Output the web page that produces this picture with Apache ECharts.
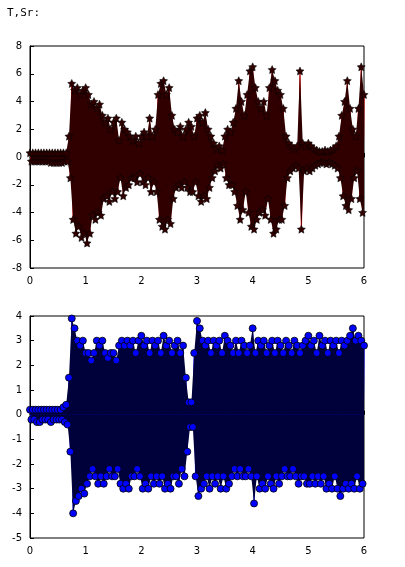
<!DOCTYPE html>
<html><head><meta charset="utf-8">
<script src="https://cdn.jsdelivr.net/npm/echarts@6/dist/echarts.min.js"></script>
<style>html,body{margin:0;padding:0;background:#fff}#c{width:405px;height:567px}</style>
</head><body><div id="c"></div>
<script>
// time step 0.05 s from 0 to 6 (121 samples); peaks
const step = 0.05;
const topUpper = [0.3,0.3,0.3,0.3,0.3,0.3,0.3,0.3,0.3,0.3,0.3,0.3,0.3,0.3,1.5,5.3,4.8,5.0,4.5,4.8,5.0,4.5,3.8,4.0,3.5,3.8,3.0,2.5,2.8,2.0,2.5,2.8,1.2,2.5,2.0,1.8,1.5,1.2,1.5,1.0,1.5,1.8,1.5,2.8,1.5,2.0,4.5,5.3,5.5,4.5,5.0,3.0,2.0,1.8,2.2,1.5,2.0,2.5,2.2,1.5,2.8,3.0,2.5,3.2,2.0,1.5,1.0,0.6,0.8,0.5,1.5,2.0,1.8,2.5,3.5,5.5,4.0,3.0,4.5,6.2,6.5,5.0,4.0,3.5,4.0,3.0,5.0,6.3,5.5,4.8,4.5,3.5,1.5,1.0,0.8,0.6,0.8,6.2,1.0,0.8,1.0,0.8,0.6,0.5,0.4,0.4,0.5,0.4,0.5,0.6,0.8,1.5,3.0,4.0,5.5,3.5,2.0,1.5,3.5,6.5,4.5];
const topLower = [-0.3,-0.3,-0.3,-0.3,-0.3,-0.3,-0.3,-0.4,-0.4,-0.4,-0.4,-0.4,-0.3,-0.3,-1.5,-4.5,-5.5,-5.0,-5.8,-5.5,-6.2,-5.5,-4.2,-4.5,-4.0,-4.2,-3.0,-2.8,-3.2,-2.5,-3.0,-2.5,-1.5,-2.8,-2.2,-2.0,-1.5,-1.5,-1.8,-1.2,-1.8,-2.0,-1.5,-2.5,-1.8,-2.5,-4.5,-5.0,-5.2,-4.5,-4.8,-3.0,-2.2,-2.0,-2.2,-1.8,-2.2,-2.5,-2.5,-1.8,-2.8,-3.2,-2.8,-3.0,-2.2,-1.5,-1.0,-0.6,-0.8,-0.5,-1.5,-2.0,-2.0,-2.5,-3.5,-4.5,-3.8,-2.5,-4.0,-5.0,-5.2,-4.5,-4.0,-3.8,-4.2,-3.0,-4.5,-5.5,-5.2,-4.5,-4.5,-3.5,-1.5,-1.0,-0.8,-0.6,-0.8,-5.2,-1.0,-0.8,-1.0,-0.8,-0.6,-0.5,-0.4,-0.4,-0.5,-0.4,-0.5,-0.6,-0.8,-1.5,-2.8,-3.5,-3.8,-3.0,-1.5,-1.0,-3.0,-4.0,-3.5];
const botUpper = [0.2,0.2,0.2,0.2,0.2,0.2,0.2,0.2,0.2,0.2,0.2,0.2,0.3,0.4,1.5,3.9,3.5,3.0,2.8,3.0,2.5,2.5,2.2,2.5,3.0,2.8,3.0,2.5,2.3,2.5,2.5,2.2,2.8,3.0,2.8,3.0,2.8,3.0,2.5,3.0,3.2,2.8,3.0,2.5,3.0,2.8,3.0,2.5,3.2,2.8,3.0,2.5,2.8,3.0,2.5,2.8,1.5,0.5,0.5,2.5,3.8,3.5,3.0,2.8,3.0,2.5,3.0,2.8,3.0,2.5,3.2,3.0,2.8,2.5,3.0,2.5,3.0,2.8,2.5,2.8,3.5,2.5,3.0,2.8,3.0,2.5,2.8,3.0,2.5,3.0,2.8,2.5,3.0,2.8,2.5,3.0,2.8,2.5,2.8,3.0,3.2,2.8,3.0,2.5,3.2,2.8,3.0,2.5,3.0,2.8,3.0,2.5,3.0,2.8,3.0,3.2,3.5,3.0,3.2,3.0,2.8];
const botLower = [-0.2,-0.2,-0.3,-0.3,-0.2,-0.2,-0.2,-0.3,-0.2,-0.2,-0.2,-0.2,-0.3,-0.4,-1.5,-4.0,-3.5,-3.3,-3.0,-3.2,-2.8,-2.5,-2.2,-2.5,-2.8,-2.5,-2.8,-2.5,-2.2,-2.5,-2.5,-2.2,-2.8,-3.0,-2.8,-3.0,-2.5,-2.5,-2.2,-2.5,-3.0,-2.8,-3.0,-2.5,-2.8,-2.5,-2.8,-2.5,-3.0,-2.8,-3.0,-2.5,-2.5,-2.8,-2.2,-2.5,-1.5,-0.5,-0.5,-2.5,-3.3,-3.0,-2.8,-2.5,-3.0,-2.5,-2.8,-2.5,-3.0,-2.5,-3.0,-2.8,-2.5,-2.2,-2.5,-2.2,-2.5,-2.5,-2.2,-2.5,-3.6,-2.5,-3.0,-2.8,-3.0,-2.5,-2.8,-3.0,-2.5,-2.8,-2.5,-2.2,-2.5,-2.5,-2.2,-2.5,-2.8,-2.5,-2.5,-2.8,-2.8,-2.5,-2.8,-2.5,-2.8,-2.5,-3.0,-2.8,-3.0,-2.5,-3.0,-3.3,-3.0,-2.8,-3.0,-2.8,-3.0,-2.5,-3.0,-2.8,-2.5];

function zig(up, low){
  const d=[];
  for(let i=0;i<up.length;i++){
    const t=+(i*step).toFixed(3);
    d.push([t, up[i]]);
    if(i<up.length-1) d.push([+(t+step/2).toFixed(3), low[i]]);
  }
  return d;
}
function env(v, shift){ return v.map((y,i)=>[+(i*step+shift).toFixed(3), y]); }
const ax = {axisLine:{lineStyle:{color:'#000'}},axisTick:{inside:true,length:4,lineStyle:{color:'#000'}},axisLabel:{color:'#000',fontSize:10,fontFamily:'DejaVu Sans'},splitLine:{show:false}};
const star='path://M0,-10L2.9,-4L9.5,-3.1L4.7,1.5L5.9,8.1L0,5L-5.9,8.1L-4.7,1.5L-9.5,-3.1L-2.9,-4Z';
function band(v, shift, xi, col){
  return {type:'line',xAxisIndex:xi,yAxisIndex:xi,data:env(v,shift),symbol:'none',silent:true,
    lineStyle:{width:0},areaStyle:{color:col,opacity:1,origin:0},z:2};
}
const zt=zig(topUpper,topLower), zb=zig(botUpper,botLower);
const chart=echarts.init(document.getElementById('c'));
chart.setOption({
  animation:false,
  title:{text:'T,Sr:',left:2,top:3,textStyle:{fontSize:11,fontWeight:'normal',color:'#000',fontFamily:'DejaVu Sans Mono'}},
  grid:[{left:30,right:41,top:46,height:222,show:true,borderColor:'#000',borderWidth:1},
        {left:30,right:41,top:316,height:222,show:true,borderColor:'#000',borderWidth:1}],
  xAxis:[Object.assign({type:'value',gridIndex:0,min:0,max:6,interval:1},ax),
         Object.assign({type:'value',gridIndex:1,min:0,max:6,interval:1},ax)],
  yAxis:[Object.assign({type:'value',gridIndex:0,min:-8,max:8,interval:2},ax),
         Object.assign({type:'value',gridIndex:1,min:-5,max:4,interval:1},ax)],
  series:[
    {type:'line',xAxisIndex:0,yAxisIndex:0,data:zt,symbol:'none',z:1,lineStyle:{color:'#e00000',width:1.2}},
    {type:'line',xAxisIndex:1,yAxisIndex:1,data:zb,symbol:'none',z:1,lineStyle:{color:'#0000ff',width:1.2}},
    band(topUpper,0,0,'#300000'), band(topLower,step/2,0,'#300000'),
    band(botUpper,0,1,'#00003a'), band(botLower,step/2,1,'#00003a'),
    {type:'scatter',xAxisIndex:0,yAxisIndex:0,data:zt,symbol:star,symbolSize:8,z:4,
     itemStyle:{color:'#300000',borderColor:'#000',borderWidth:0.5,opacity:1}},
    {type:'scatter',xAxisIndex:1,yAxisIndex:1,data:zb,symbol:'circle',symbolSize:7,z:4,
     itemStyle:{color:'#0000ff',borderColor:'#000',borderWidth:0.8,opacity:1}}
  ]
});
</script></body></html>
